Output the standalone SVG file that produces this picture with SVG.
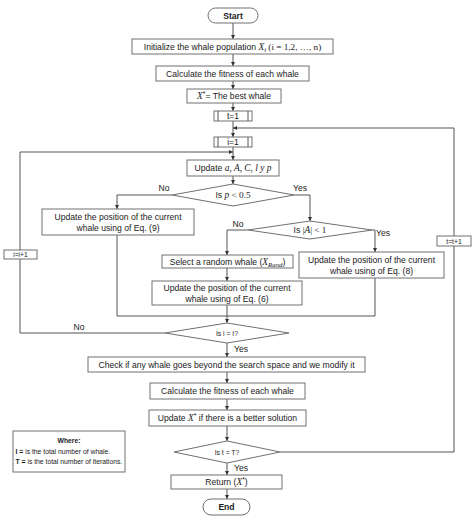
<svg xmlns="http://www.w3.org/2000/svg" width="474" height="520" viewBox="0 0 474 520">
<style>
  .box{fill:#fff;stroke:#707070;stroke-width:1}
  .ln{fill:none;stroke:#555;stroke-width:1}
  text{font-family:"Liberation Sans",Arial,sans-serif;font-size:8.6px;fill:#1a1a1a}
  .c{text-anchor:middle}
  .b{font-weight:bold}
  .m{font-family:"Liberation Serif","DejaVu Serif",serif;font-style:italic;font-size:9.4px}
  .mu{font-family:"Liberation Serif","DejaVu Serif",serif;font-size:9.2px}
  .sm{font-size:6.8px}
  .lg{font-size:6.8px}
</style>
<defs>
  <marker id="ah" viewBox="0 0 6 6" refX="6" refY="3" markerWidth="4" markerHeight="4" orient="auto" markerUnits="userSpaceOnUse">
    <path d="M0,0 L6,3 L0,6 z" fill="#333"/>
  </marker>
</defs>
<rect width="474" height="520" fill="#fff"/>
<g id="connectors">
  <line class="ln" x1="233" y1="23" x2="233" y2="39" marker-end="url(#ah)"/>
  <line class="ln" x1="233" y1="54" x2="233" y2="66" marker-end="url(#ah)"/>
  <line class="ln" x1="233" y1="81" x2="233" y2="89" marker-end="url(#ah)"/>
  <line class="ln" x1="233" y1="103" x2="233" y2="111" marker-end="url(#ah)"/>
  <line class="ln" x1="233" y1="121" x2="233" y2="137" marker-end="url(#ah)"/>
  <line class="ln" x1="233" y1="147" x2="233" y2="160" marker-end="url(#ah)"/>
  <line class="ln" x1="233" y1="176" x2="233" y2="184" marker-end="url(#ah)"/>
  <polyline class="ln" points="172,195 117,195 117,209" marker-end="url(#ah)"/>
  <polyline class="ln" points="294,195 310,195 310,221" marker-end="url(#ah)"/>
  <polyline class="ln" points="248,230 227,230 227,255" marker-end="url(#ah)"/>
  <polyline class="ln" points="372,230 375,230 375,252" marker-end="url(#ah)"/>
  <line class="ln" x1="227" y1="268" x2="227" y2="281" marker-end="url(#ah)"/>
  <polyline class="ln" points="117,235 117,316 375,316 375,278"/>
  <line class="ln" x1="227" y1="305" x2="227" y2="323" marker-end="url(#ah)"/>
  <polyline class="ln" points="165,333 20,333 20,152 233,152" marker-end="url(#ah)"/>
  <line class="ln" x1="227" y1="343" x2="227" y2="357" marker-end="url(#ah)"/>
  <line class="ln" x1="227" y1="372" x2="227" y2="383" marker-end="url(#ah)"/>
  <line class="ln" x1="227" y1="399" x2="227" y2="410" marker-end="url(#ah)"/>
  <line class="ln" x1="227" y1="426" x2="227" y2="441" marker-end="url(#ah)"/>
  <polyline class="ln" points="280,452 454,452 454,128 233,128" marker-end="url(#ah)"/>
  <line class="ln" x1="227" y1="463" x2="227" y2="475" marker-end="url(#ah)"/>
  <line class="ln" x1="227" y1="489" x2="227" y2="499" marker-end="url(#ah)"/>
  <text class="c" x="164" y="191">No</text>
  <text class="c" x="300" y="191">Yes</text>
  <text class="c" x="238" y="227">No</text>
  <text class="c" x="383" y="236">Yes</text>
  <text class="c" x="79" y="330">No</text>
  <text class="c" x="241" y="352">Yes</text>
  <text class="c" x="241" y="471">Yes</text>
</g>
<g id="start">
  <rect class="box" x="208" y="8" width="50" height="15" rx="7.5"/>
  <text class="c b" x="233" y="18.8">Start</text>
</g>
<g id="init">
  <rect class="box" x="132" y="39" width="201" height="15"/>
  <text class="c" x="232.5" y="49.8">Initialize the whale population <tspan class="m">X</tspan><tspan class="m sm" dy="2">i</tspan><tspan class="mu" dy="-2"> (i = 1,2, …, n)</tspan></text>
</g>
<g id="fitness1">
  <rect class="box" x="156" y="66" width="153" height="15"/>
  <text class="c" x="232.5" y="76.8">Calculate the fitness of each whale</text>
</g>
<g id="best">
  <rect class="box" x="187" y="89" width="94" height="14"/>
  <text class="c" x="234" y="99.2"><tspan class="m">X</tspan><tspan class="sm" dy="-3">*</tspan><tspan dy="3">= The best whale</tspan></text>
</g>
<g id="t1">
  <rect class="box" x="214" y="111" width="38" height="10"/>
  <line class="ln" x1="218" y1="111" x2="218" y2="121"/>
  <line class="ln" x1="248" y1="111" x2="248" y2="121"/>
  <text class="c" x="233" y="119.2">t=1</text>
</g>
<g id="i1">
  <rect class="box" x="214" y="137" width="38" height="10"/>
  <line class="ln" x1="218" y1="137" x2="218" y2="147"/>
  <line class="ln" x1="248" y1="137" x2="248" y2="147"/>
  <text class="c" x="233" y="145.2">i=1</text>
</g>
<g id="update">
  <rect class="box" x="187" y="160" width="92" height="16"/>
  <text class="c" x="233" y="171.2">Update <tspan class="m">a, A, C, l y p</tspan></text>
</g>
<g id="isp">
  <polygon class="box" points="172,195 233,184 294,195 233,206"/>
  <text class="c" x="233" y="198">Is <tspan class="m">p</tspan><tspan class="mu"> &lt; 0.5</tspan></text>
</g>
<g id="eq9">
  <rect class="box" x="42" y="209" width="152" height="26"/>
  <text class="c" x="118" y="219.5">Update the position of the current</text>
  <text class="c" x="118" y="231">whale using of Eq. (9)</text>
</g>
<g id="isA">
  <polygon class="box" points="248,230 310,221 372,230 310,239"/>
  <text class="c" x="310" y="233">Is <tspan class="mu">|</tspan><tspan class="m">A</tspan><tspan class="mu">| &lt; 1</tspan></text>
</g>
<g id="select">
  <rect class="box" x="162" y="255" width="131" height="13"/>
  <text class="c" x="227.5" y="264.5">Select a random whale (<tspan class="m">X</tspan><tspan class="m sm" dy="2">Rand</tspan><tspan dy="-2">)</tspan></text>
</g>
<g id="eq8">
  <rect class="box" x="299" y="252" width="145" height="26"/>
  <text class="c" x="371.5" y="262.5">Update the position of the current</text>
  <text class="c" x="371.5" y="274">whale using of Eq. (8)</text>
</g>
<g id="eq6">
  <rect class="box" x="152" y="281" width="150" height="24"/>
  <text class="c" x="227" y="290.5">Update the position of the current</text>
  <text class="c" x="227" y="301.8">whale using of Eq. (6)</text>
</g>
<g id="isi">
  <polygon class="box" points="165,333 227,323 289,333 227,343"/>
  <text class="c sm" x="227" y="335.8">Is i = I?</text>
</g>
<g id="tt1">
  <rect class="box" x="437" y="236" width="34" height="10"/>
  <text class="c sm" x="454" y="243.6">t=t+1</text>
</g>
<g id="ii1">
  <rect class="box" x="4" y="250" width="33" height="9"/>
  <text class="c sm" x="20.5" y="257.2">i=i+1</text>
</g>
<g id="check">
  <rect class="box" x="88" y="357" width="277" height="15"/>
  <text class="c" x="226.5" y="367.8">Check if any whale goes beyond the search space and we modify it</text>
</g>
<g id="fitness2">
  <rect class="box" x="150" y="383" width="155" height="16"/>
  <text class="c" x="227.5" y="394.2">Calculate the fitness of each whale</text>
</g>
<g id="updbest">
  <rect class="box" x="149" y="410" width="157" height="16"/>
  <text class="c" x="227.5" y="421.2">Update <tspan class="m">X</tspan><tspan class="sm" dy="-3">*</tspan><tspan dy="3"> if there is a better solution</tspan></text>
</g>
<g id="ist">
  <polygon class="box" points="174,452 227,441 280,452 227,463"/>
  <text class="c sm" x="227" y="454.8">Is t = T?</text>
</g>
<g id="return">
  <rect class="box" x="171" y="475" width="111" height="14"/>
  <text class="c" x="226.5" y="485.2">Return (<tspan class="m">X</tspan><tspan class="sm" dy="-3">*</tspan><tspan dy="3">)</tspan></text>
</g>
<g id="end">
  <rect class="box" x="203" y="499" width="47" height="16" rx="8"/>
  <text class="c b" x="226.5" y="510.2">End</text>
</g>
<g id="legend">
  <rect class="box" x="13" y="431" width="112" height="41"/>
  <text class="c b lg" x="69" y="443">Where:</text>
  <text class="lg" x="15.5" y="454"><tspan class="b">I =</tspan> is the total number of whale.</text>
  <text class="lg" x="15.5" y="464"><tspan class="b">T =</tspan> is the total number of iterations.</text>
</g>
</svg>
